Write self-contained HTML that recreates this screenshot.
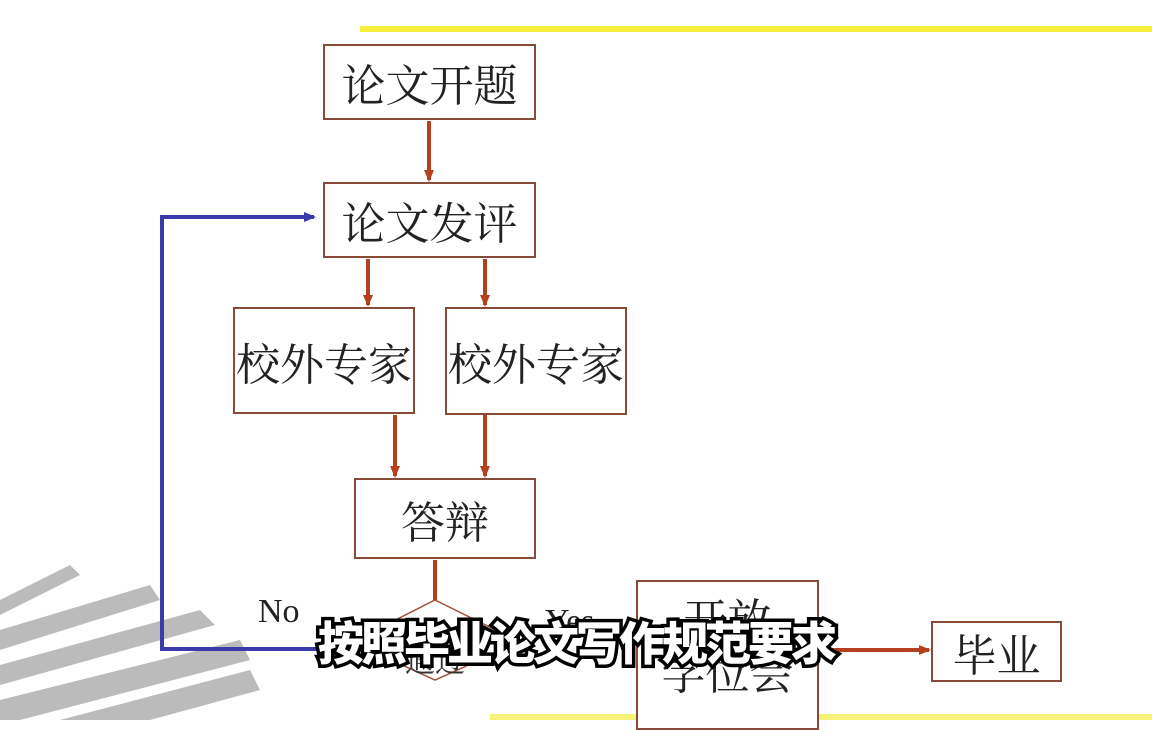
<!DOCTYPE html>
<html><head><meta charset="utf-8"><style>
html,body{margin:0;padding:0;background:#fff;}
body{width:1152px;height:720px;position:relative;overflow:hidden;font-family:"Liberation Serif","Noto Serif CJK SC",serif;}
.b{position:absolute;border:2px solid #8a4a3a;box-sizing:border-box;display:flex;align-items:center;justify-content:center;font-size:44px;color:#222;background:#fff;}
.sub{position:absolute;left:290px;top:608px;width:572px;text-align:center;font-family:"Noto Sans CJK SC","WenQuanYi Zen Hei",sans-serif;font-weight:900;font-size:46px;color:#fff;-webkit-text-stroke:7px #000;paint-order:stroke fill;letter-spacing:-3px;}
</style></head><body>
<div style="position:absolute;left:360px;top:26px;width:792px;height:6px;background:#f5ee3a"></div>
<div style="position:absolute;left:490px;top:714px;width:662px;height:6px;background:#f7f27a"></div>
<svg width="1152" height="720" style="position:absolute;left:0;top:0">
<defs>
<marker id="r" markerWidth="12" markerHeight="10" refX="10" refY="5" orient="auto" markerUnits="userSpaceOnUse"><path d="M0,0 L12,5 L0,10z" fill="#b5401e"/></marker>
<marker id="bl" markerWidth="12" markerHeight="10" refX="10" refY="5" orient="auto" markerUnits="userSpaceOnUse"><path d="M0,0 L12,5 L0,10z" fill="#3a3aa8"/></marker>
</defs>
<g fill="#bbb">
<polygon points="0,600 70,565 80,575 0,615"/>
<polygon points="0,630 150,585 160,600 0,650"/>
<polygon points="0,665 200,610 215,625 0,685"/>
<polygon points="0,700 240,640 250,660 20,720 0,720"/>
<polygon points="60,720 250,670 260,690 150,720"/>
</g>
<g stroke="#b5401e" stroke-width="4" fill="none">
<line x1="429" y1="121" x2="429" y2="180" marker-end="url(#r)"/>
<line x1="368" y1="259" x2="368" y2="305" marker-end="url(#r)"/>
<line x1="485" y1="259" x2="485" y2="305" marker-end="url(#r)"/>
<line x1="395" y1="415" x2="395" y2="476" marker-end="url(#r)"/>
<line x1="485" y1="415" x2="485" y2="476" marker-end="url(#r)"/>
<line x1="435" y1="560" x2="435" y2="615" marker-end="url(#r)"/>
<line x1="818" y1="650" x2="929" y2="650" marker-end="url(#r)"/>
</g>
<polygon points="435,600 520,642 435,680 352,642" fill="#fff" stroke="#a0503a" stroke-width="1.5"/>
<g stroke="#3a3aa8" stroke-width="4" fill="none">
<polyline points="352,649 162,649 162,217 314,217" marker-end="url(#bl)"/>
</g>
<text x="258" y="622" font-size="34" font-family="Liberation Serif" fill="#222">No</text>
<text x="545" y="632" font-size="34" font-family="Liberation Serif" fill="#222">Yes</text>
<text x="435" y="672" font-size="30" text-anchor="middle" font-family="Noto Serif CJK SC" fill="#333">通过</text>
</svg>
<div class="b" style="left:323px;top:44px;width:213px;height:76px">论文开题</div>
<div class="b" style="left:323px;top:182px;width:213px;height:76px">论文发评</div>
<div class="b" style="left:233px;top:307px;width:182px;height:107px">校外专家</div>
<div class="b" style="left:445px;top:307px;width:182px;height:108px">校外专家</div>
<div class="b" style="left:354px;top:478px;width:182px;height:81px">答辩</div>
<div class="b" style="left:636px;top:580px;width:183px;height:150px;align-items:flex-start;padding-top:12px;line-height:54px;text-align:center">开放<br>学位会</div>
<div class="b" style="left:931px;top:621px;width:131px;height:61px">毕业</div>
<div class="sub">按照毕业论文写作规范要求</div>
</body></html>
